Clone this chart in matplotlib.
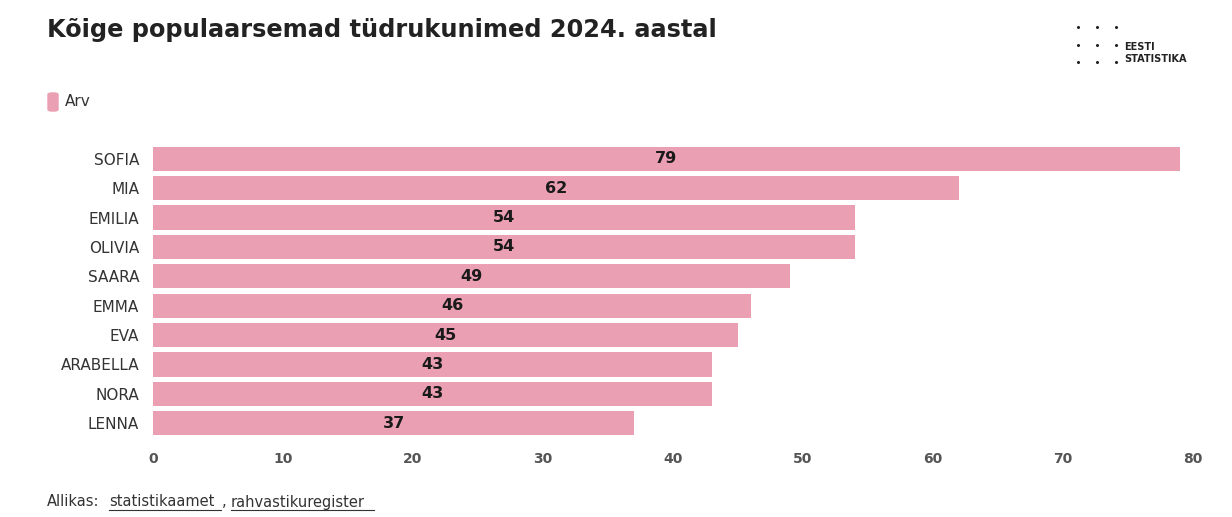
import matplotlib
matplotlib.use("Agg")
import matplotlib.pyplot as plt
from matplotlib.patches import FancyBboxPatch

names = ["SOFIA", "MIA", "EMILIA", "OLIVIA", "SAARA", "EMMA", "EVA", "ARABELLA", "NORA", "LENNA"]
values = [79, 62, 54, 54, 49, 46, 45, 43, 43, 37]
ticks = [0, 10, 20, 30, 40, 50, 60, 70, 80]
color = "#eb9fb2"

W, H = 1232, 517
fig = plt.figure(figsize=(W/100, H/100), dpi=100)
ax = fig.add_axes([153/W, 1-438/H, (1193-153)/W, (438-144)/H])
y = list(range(len(names)))
ax.barh(y, values, height=0.82, color=color)
for yi, v in zip(y, values):
    ax.text(v/2, yi, str(v), ha="center", va="center", fontsize=11.5, fontweight="bold", color="#1a1a1a")
ax.set_ylim(len(names)-0.5, -0.5)
ax.set_xlim(0, 80)
ax.set_yticks(y)
ax.set_yticklabels(names, fontsize=11, color="#333333")
ax.set_xticks(ticks)
ax.set_xticklabels([str(t) for t in ticks], fontsize=10, fontweight="bold", color="#555555")
for s in ax.spines.values():
    s.set_visible(False)
ax.tick_params(axis="both", length=0)
ax.tick_params(axis="y", pad=10)
ax.tick_params(axis="x", pad=10)

fig.text(47/W, 1-30/H, "Kõige populaarsemad tüdrukunimed 2024. aastal", fontsize=17.3, fontweight="bold",
         color="#222222", va="center", ha="left")
fig.patches.append(FancyBboxPatch((48/W, 1-111/H), 10/W, 18/H, boxstyle="round,pad=0,rounding_size=0.003",
                                  transform=fig.transFigure, color=color))
fig.text(65/W, 1-102/H, "Arv", fontsize=11, color="#333333", va="center")
fig.text(47/W, 1-502/H, "Allikas:", fontsize=10.5, color="#333333", va="center")
fig.text(109/W, 1-502/H, "statistikaamet", fontsize=10.5, color="#333333", va="center")
fig.text(222/W, 1-502/H, ",", fontsize=10.5, color="#333333", va="center")
fig.text(231/W, 1-502/H, "rahvastikuregister", fontsize=10.5, color="#333333", va="center")
fig.add_artist(plt.Line2D([109/W, 221/W], [1-510/H]*2, color="#333333", lw=0.8))
fig.add_artist(plt.Line2D([231/W, 374/W], [1-510/H]*2, color="#333333", lw=0.8))

# logo
for yy in [27, 45, 62]:
    for xx in [1078, 1097, 1116]:
        fig.add_artist(plt.Line2D([xx/W], [1-yy/H], marker="o", ms=1.2, color="#222222", lw=0))
fig.text(1124/W, 1-47/H, "EESTI", fontsize=7, fontweight="bold", color="#222222", va="center")
fig.text(1124/W, 1-59/H, "STATISTIKA", fontsize=7, fontweight="bold", color="#222222", va="center")

fig.savefig("out.png", dpi=100, facecolor="white")
